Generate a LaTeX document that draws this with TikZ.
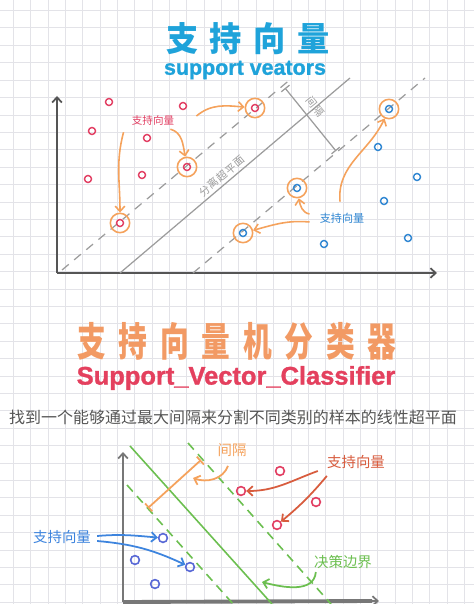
\documentclass[tikz,border=0pt]{standalone}
\usepackage{fontspec}
\setmainfont{Liberation Sans}
\newfontfamily\cjk{Noto Sans CJK SC}
\newfontfamily\cjkspaced{Noto Sans CJK SC}[LetterSpace=8]
\newfontfamily\cjkheadA{Noto Sans CJK SC}[FakeStretch=0.95, LetterSpace=34]
\newfontfamily\cjkheadB{Noto Sans CJK SC}[FakeStretch=0.72, LetterSpace=32]
\newfontfamily\heavysans{Liberation Sans}[FakeBold=1.2]
\usetikzlibrary{arrows.meta}
\definecolor{svcyan}{HTML}{1FA3DA}
\definecolor{svorange}{HTML}{F5A25C}
\definecolor{svred}{HTML}{E23E62}
\definecolor{svblue}{HTML}{2F86D2}
\definecolor{svgrey}{HTML}{9C9C9C}
\definecolor{axisgrey}{HTML}{555555}
\definecolor{gridgrey}{HTML}{E3E3E8}
\definecolor{headorange}{HTML}{F29A64}
\definecolor{svcred}{HTML}{E4405E}
\definecolor{brick}{HTML}{D85C3E}
\definecolor{bdgreen}{HTML}{6CBF50}
\definecolor{ptblue}{HTML}{5868D6}
\definecolor{labblue}{HTML}{3D84DE}

\begin{document}
\begin{tikzpicture}[x=0.02cm, y=-0.02cm,
  >={Straight Barb[length=3pt, width=5.5pt]},
  gridln/.style={gridgrey, line width=0.45pt},
  axisln/.style={axisgrey, line width=1pt},
  redpt/.style={circle, draw=svred, line width=0.8pt, inner sep=0pt, minimum size=4pt},
  bluept/.style={circle, draw=svblue, line width=0.8pt, inner sep=0pt, minimum size=4pt},
  ring/.style={circle, draw=svorange, line width=0.9pt, inner sep=0pt, minimum size=11pt},
  bred/.style={circle, draw=svred, line width=0.9pt, inner sep=0pt, minimum size=5pt},
  bblue/.style={circle, draw=ptblue, line width=0.9pt, inner sep=0pt, minimum size=5pt},
  small/.style={inner sep=0pt, font=\cjk\fontsize{6pt}{6pt}\selectfont},
  big/.style={inner sep=0pt, font=\cjk\fontsize{8.2pt}{8.2pt}\selectfont},
  orarr/.style={->, svorange, line width=0.9pt},
  hplane/.style={svgrey, line width=0.7pt},
  margin/.style={svgrey, line width=0.7pt, dash pattern=on 5pt off 4pt},
  green/.style={bdgreen, line width=0.9pt},
  greendash/.style={bdgreen, line width=0.9pt, dash pattern=on 5pt off 3.5pt}
]
  \fill[white] (0,0) rectangle (474,604);
  \useasboundingbox (0,0) rectangle (474,604);
  \foreach \i in {0,...,26} \draw[gridln] ({13.3+17.35*\i},0) -- ++(0,604);
  \foreach \i in {0,...,34} \draw[gridln] (0,{10.5+17.4*\i}) -- ++(474,0);

  % headings
  \node[inner sep=0pt, svcyan, font=\cjkheadA\bfseries\fontsize{19.3pt}{20pt}\selectfont] (head1) at (248,39) {支持向量};
  \node[inner sep=0pt, svcyan, font=\heavysans\bfseries\fontsize{12.2pt}{13pt}\selectfont] (sub1) at (245,70) {support veators};
  \node[inner sep=0pt, headorange, font=\cjkheadB\bfseries\fontsize{22.7pt}{23pt}\selectfont] (head2) at (237,341) {支持向量机分类器};
  \node[inner sep=0pt, svcred, font=\heavysans\bfseries\fontsize{14.5pt}{15pt}\selectfont] (sub2) at (236,378) {Support\_Vector\_Classifier};
  \node[inner sep=0pt, axisgrey, font=\cjk\fontsize{9.1pt}{10pt}\selectfont] (desc) at (233,417) {找到一个能够通过最大间隔来分割不同类别的样本的线性超平面};

  % first plot
  \coordinate (o1) at (57,273);
  \coordinate (y1) at (57,96);
  \coordinate (x1) at (437,273);
  \draw[axisln, ->] (o1) -- (y1);
  \draw[axisln, ->] (o1) -- (x1);
  \draw[margin] (62,270) -- (292,78);
  \draw[hplane] (120,273) -- (350,78);
  \draw[margin] (193,273) -- (425,78);
  \draw[hplane, {Bar[width=6pt]}-{Bar[width=6pt]}] (285,88) -- (336,151);
  \node[small, svgrey, font=\cjkspaced\fontsize{6pt}{6pt}\selectfont, rotate=-51] (gaplab1) at (315,107) {间隔};
  \node[small, svgrey, font=\cjkspaced\fontsize{6pt}{6pt}\selectfont, rotate=40] (hyplab) at (222,176) {分离超平面};

  \foreach \p [count=\i] in {(109,102),(183,106),(92,131),(147,138),(88,179),(142,175),(187,167),(120,223),(255,108)}
    \node[redpt] (r\i) at \p {};
  \foreach \p [count=\i] in {(378,147),(417,177),(384,201),(408,238),(324,244),(389,109),(297,188),(243,233)}
    \node[bluept] (b\i) at \p {};
  \node[ring] (s1) at (r7) {};
  \node[ring] (s2) at (r8) {};
  \node[ring] (s3) at (r9) {};
  \node[ring] (s4) at (b6) {};
  \node[ring] (s5) at (b7) {};
  \node[ring] (s6) at (b8) {};

  \node[small, svred] (redlab) at (153,120) {支持向量};
  \node[small, svblue, font=\cjk\fontsize{6.3pt}{6.3pt}\selectfont] (bluelab) at (342,218) {支持向量};
  \draw[orarr] ([shift={(-8,7)}]redlab.south west) to[out=-105, in=90] (s2);
  \draw[orarr] ([shift={(-4,4)}]redlab.south east) to[out=-15, in=100] (s1);
  \draw[orarr] ([shift={(22,-4)}]redlab.east) to[out=40, in=175] (s3);
  \draw[orarr] ([shift={(-2,-11)}]bluelab.north) to[out=95, in=-115] (s4);
  \draw[orarr] ([shift={(-10,-4)}]bluelab.west) to[out=170, in=-80] (s5);
  \draw[orarr] ([shift={(-10,4)}]bluelab.west) to[out=175, in=15] (s6);

  % second plot
  \coordinate (o2) at (123,602);
  \coordinate (y2) at (123,452);
  \coordinate (x2) at (379,601);
  \draw[axisgrey!80, line width=1pt, ->] (o2) -- (y2);
  \draw[axisgrey!80, line width=2.2pt] (o2) -- (372,601);
  \draw[axisgrey!80, line width=1pt, ->] (368,601) -- (x2);
  \draw[green] (130,446) -- (272,604);
  \draw[greendash] (188,443) -- (331,604);
  \draw[greendash] (127,485) -- (234,605);
  \draw[svorange, line width=1pt, {Bar[width=6pt]}-{Bar[width=6pt]}] (148,508) -- (201,460);

  \foreach \p [count=\i] in {(280,471),(241,491),(316,502),(277,525)}
    \node[bred] (q\i) at \p {};
  \foreach \p [count=\i] in {(163,538),(190,567),(135,560),(155,584)}
    \node[bblue] (p\i) at \p {};

  \node[big, svorange] (gaplab2) at (232,450) {间隔};
  \node[big, brick] (redlab2) at (356,462) {支持向量};
  \node[big, bdgreen] (bdlab) at (343,562) {决策边界};
  \node[big, labblue] (bluelab2) at (62,537) {支持向量};
  \coordinate (gapend) at (193,478);
  \coordinate (bdend) at (262,582);

  \draw[->, svorange, line width=1pt] ([shift={(-4,9)}]gaplab2.south) to[out=-110, in=-20] (gapend);
  \draw[->, brick, line width=1pt] ([shift={(-9,2)}]redlab2.south west) to[out=200, in=0] (q2);
  \draw[->, brick, line width=1pt] ([shift={(0,7)}]redlab2.south west) to[out=-130, in=40] (q4);
  \draw[->, bdgreen, line width=1pt] ([shift={(2,3)}]bdlab.south west) to[out=-95, in=-15] (bdend);
  \draw[->, labblue, line width=1pt] ([shift={(6,-1)}]bluelab2.east) to[out=5, in=175] (p1);
  \draw[->, labblue, line width=1pt] ([shift={(6,4)}]bluelab2.east) to[out=-5, in=155] (p2);
\end{tikzpicture}
\end{document}
